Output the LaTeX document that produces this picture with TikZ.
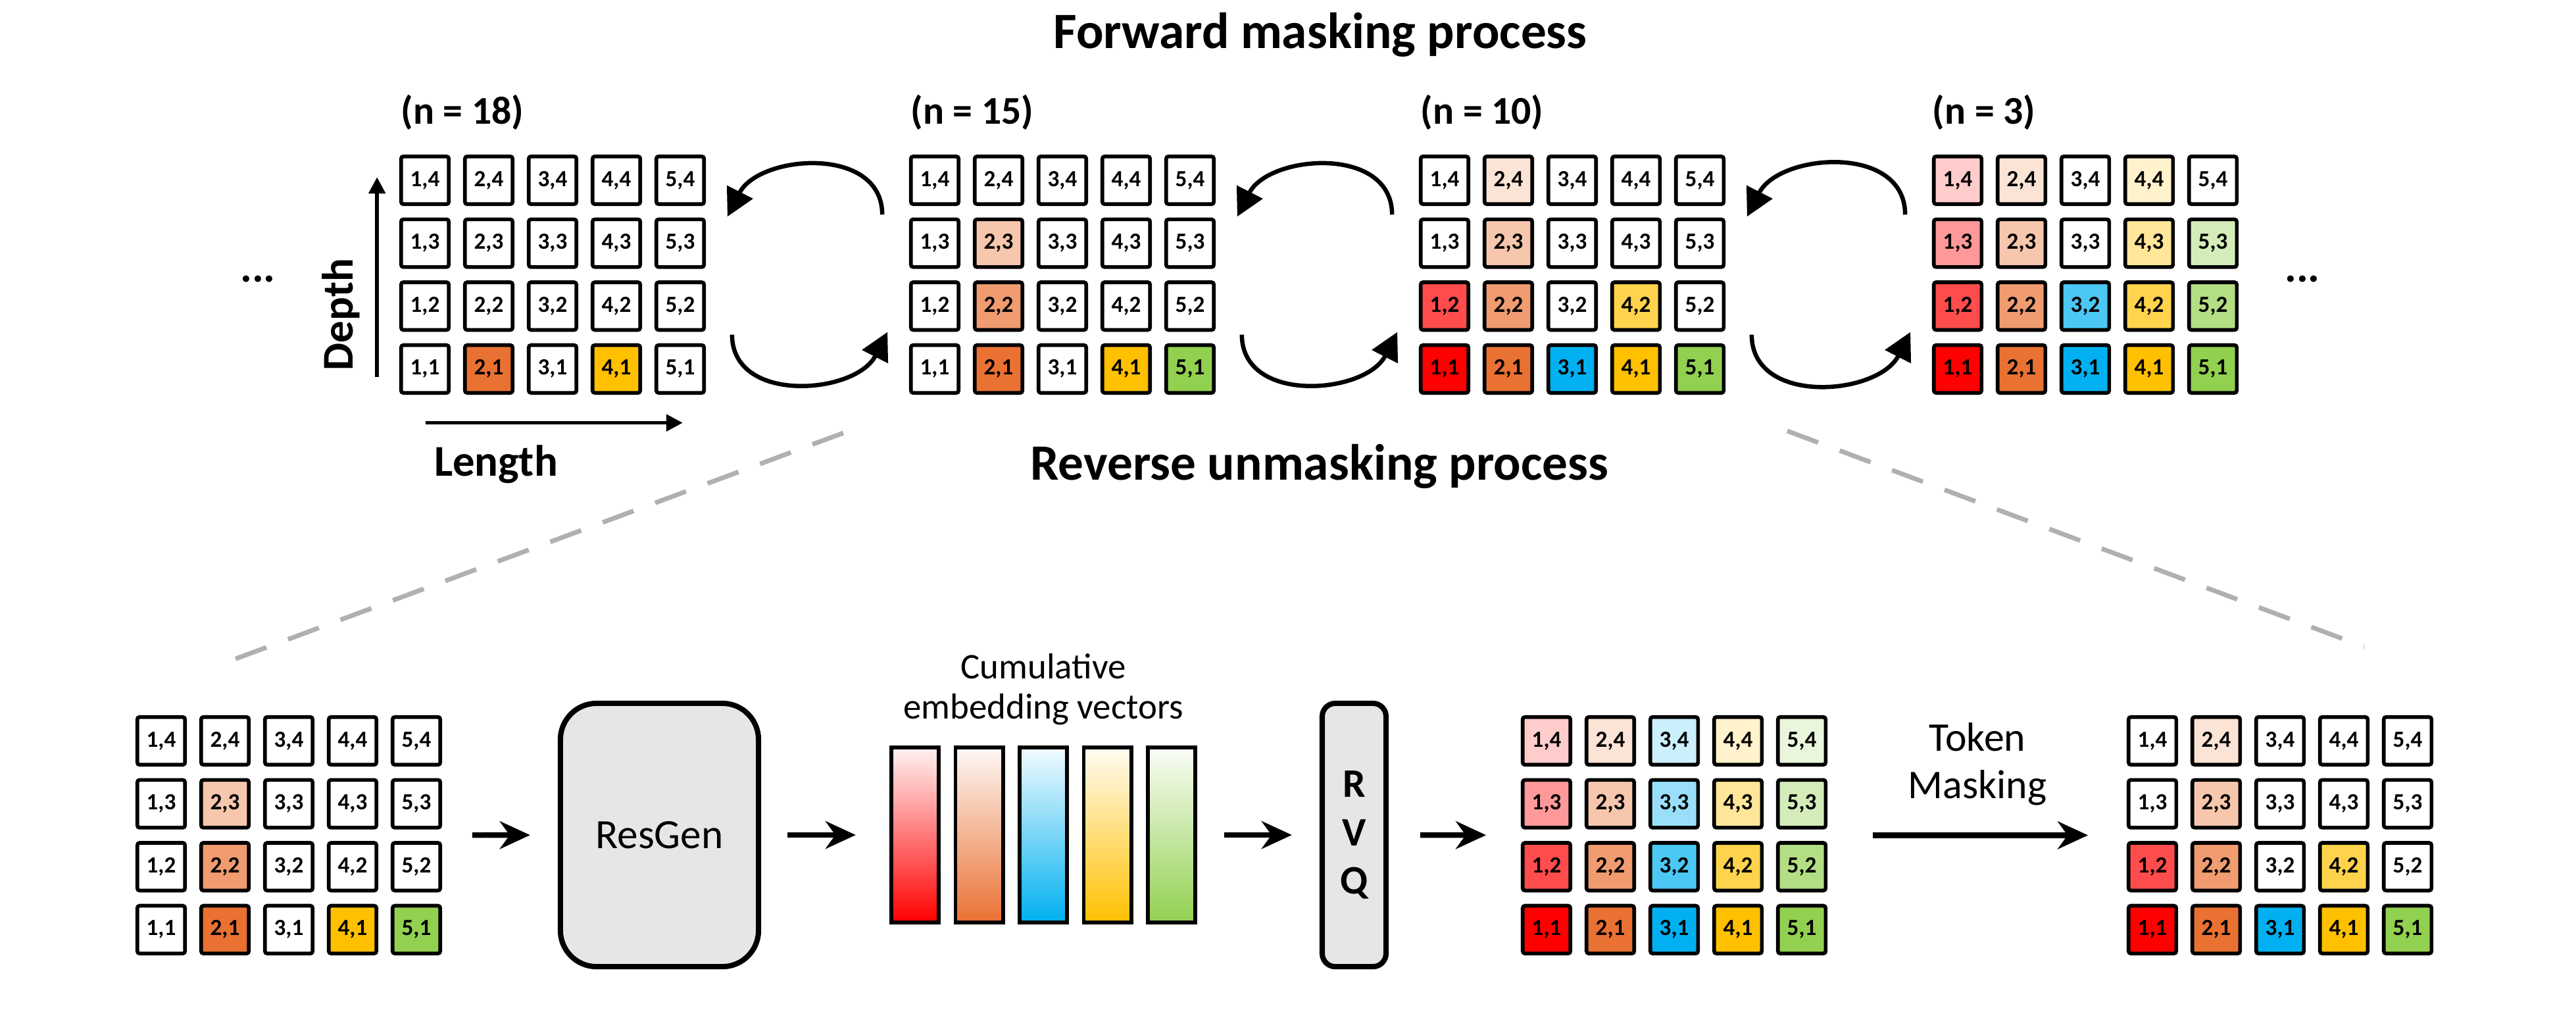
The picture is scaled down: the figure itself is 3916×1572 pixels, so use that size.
\documentclass[tikz,border=0pt]{standalone}
\usepackage{fontspec}
\setmainfont{Carlito}
\usepackage{tikz}
\usetikzlibrary{arrows.meta,positioning,calc}
\definecolor{tok1}{HTML}{FF0000}
\definecolor{tok2}{HTML}{E97132}
\definecolor{tok3}{HTML}{00B0F0}
\definecolor{tok4}{HTML}{FFC000}
\definecolor{tok5}{HTML}{92D050}
\definecolor{boxgray}{HTML}{E7E6E6}
\definecolor{dashgray}{HTML}{B0B0B0}

% one 5x4 token grid: name, left, top, filled depth per column
\newcommand{\tokengrid}[4]{%
  \node[gridframe] (#1) at (#2+233.5,-#3-182.4) {};
  \foreach \h [count=\i] in {#4} {
    \foreach \j/\lev in {1/100,2/70,3/40,4/20} {
      \pgfmathtruncatemacro\tint{\j>\h ? 0 : \lev}
      \node[cell, fill=tok\i!\tint] (#1-\i-\j) at (#2+39+97*\i-97,-#3-421.4+95.6*\j) {\i,\j};
    }
  }
}

\begin{document}
\begin{tikzpicture}[x=0.01cm, y=0.01cm,
    cell/.style={draw, line width=1.6pt, minimum size=.725cm, inner sep=0pt, rounded corners=1pt, font=\bfseries\fontsize{10}{12}\selectfont},
    gridframe/.style={minimum width=4.67cm, minimum height=3.648cm, inner sep=0pt},
    title/.style={font=\bfseries\fontsize{22}{26}\selectfont, inner sep=0pt},
    steplabel/.style={font=\bfseries\fontsize{17}{20}\selectfont, inner sep=0pt, anchor=base west},
    axislabel/.style={font=\bfseries\fontsize{19}{22}\selectfont, inner sep=0pt},
    block/.style={draw, fill=boxgray, line width=2.3pt, inner sep=0pt, minimum height=4cm},
    vecbar/.style={draw, line width=1.7pt, minimum width=.72cm, minimum height=2.66cm, inner sep=0pt},
    flow/.style={line width=2.4pt, -{Stealth[length=.46cm, width=.42cm]}},
    cyc/.style={line width=1.85pt, -{Triangle[length=.42cm, width=.43cm]}},
    axis/.style={line width=1.6pt, -{Triangle[length=.25cm, width=.25cm]}},
    zoomline/.style={dashgray, line width=2pt, dash pattern=on .5cm off .35cm}]
    \useasboundingbox (0,0) rectangle (3916,-1572);

    % Forward masking process
    \node[title, anchor=base] (fwd) at (2007,-73) {Forward masking process};
    \tokengrid{g1}{607}{235}{0,1,0,1,0}
    \tokengrid{g2}{1382}{235}{0,3,0,1,1}
    \tokengrid{g3}{2157}{235}{2,4,1,2,1}
    \tokengrid{g4}{2937}{235}{4,4,2,4,3}
    \node[steplabel] (n1) at (609,-188) {(n = 18)};
    \node[steplabel] (n2) at (1384,-188) {(n = 15)};
    \node[steplabel] (n3) at (2159,-188) {(n = 10)};
    \node[steplabel] (n4) at (2937,-188) {(n = 3)};
    \node[axislabel, anchor=base] (dotsl) at (392,-428) {...};
    \node[axislabel, anchor=base] (dotsr) at (3500,-428) {...};
    \foreach \lft/\rgt in {g1/g2,g2/g3,g3/g4} {
        \coordinate (\lft-us) at ($(\rgt.north west)+(-40,-92)$);
        \coordinate (\lft-ut) at ($(\lft.north east)+(31,-95)$);
        \coordinate (\lft-ls) at ($(\lft.south east)+(38,92)$);
        \coordinate (\lft-lt) at ($(\rgt.south west)+(-32,96)$);
        \draw[cyc] (\lft-us) to[out=90,in=63,looseness=1.15] (\lft-ut);
        \draw[cyc] (\lft-ls) to[out=270,in=243,looseness=1.15] (\lft-lt);
    }

    % axes
    \coordinate (d0) at ($(g1.south west)+(-33,28)$);
    \coordinate (d1) at ($(g1.north west)+(-33,-35)$);
    \coordinate (l0) at ($(g1.south west)+(41,-42)$);
    \coordinate (l1) at ($(g1.south east)+(-37,-42)$);
    \draw[axis] (d0) -- (d1);
    \draw[axis] (l0) -- (l1);
    \node[axislabel, rotate=90] (depth) at (518,-478) {Depth};
    \node[axislabel, anchor=base] (length) at (754,-723) {Length};

    % Reverse unmasking process
    \node[title, anchor=base] (rev) at (2006,-729) {Reverse unmasking process};
    \coordinate (zl1) at (1282,-658);
    \coordinate (zl2) at (332,-1011);
    \coordinate (zr1) at (2717,-655);
    \coordinate (zr2) at (3594,-983);
    \draw[zoomline] (zl1) -- (zl2);
    \draw[zoomline] (zr1) -- (zr2);

    \tokengrid{ga}{206}{1087}{0,3,0,1,1}
    \node[block, minimum width=3.01cm, rounded corners=.55cm, font=\fontsize{18}{22}\selectfont] (resgen) at (1002.5,-1269) {ResGen};
    \foreach \i in {1,...,5} {
        \node[vecbar, top color=tok\i!5, bottom color=tok\i] (vec\i) at (1391+97.5*\i-97.5,-1269) {};
    }
    \node[above=.3cm of vec3, inner sep=0pt, align=center, font=\fontsize{15.6}{17.5}\selectfont] (cev) {Cumulative\\embedding vectors};
    \node[block, minimum width=.97cm, rounded corners=.2cm, align=center, font=\bfseries\fontsize{17.5}{20.8}\selectfont] (rvq) at (2058.5,-1269) {R\\V\\Q};
    \tokengrid{gb}{2312}{1087}{4,4,4,4,4}
    \tokengrid{gc}{3233}{1087}{2,4,1,2,1}

    \draw[flow, shorten <=.44cm, shorten >=.42cm] (ga) -- (resgen);
    \draw[flow, shorten <=.40cm, shorten >=.51cm] (resgen) -- (vec1);
    \draw[flow, shorten <=.41cm, shorten >=.42cm] (vec5) -- (rvq);
    \draw[flow, shorten <=.48cm, shorten >=.52cm] (rvq) -- (gb);
    \draw[flow, shorten <=.67cm, shorten >=.58cm] (gb) -- node[above=.41cm, inner sep=0pt, align=center, font=\fontsize{17.6}{20.5}\selectfont] (tmask) {Token\\Masking} (gc);
\end{tikzpicture}
\end{document}
